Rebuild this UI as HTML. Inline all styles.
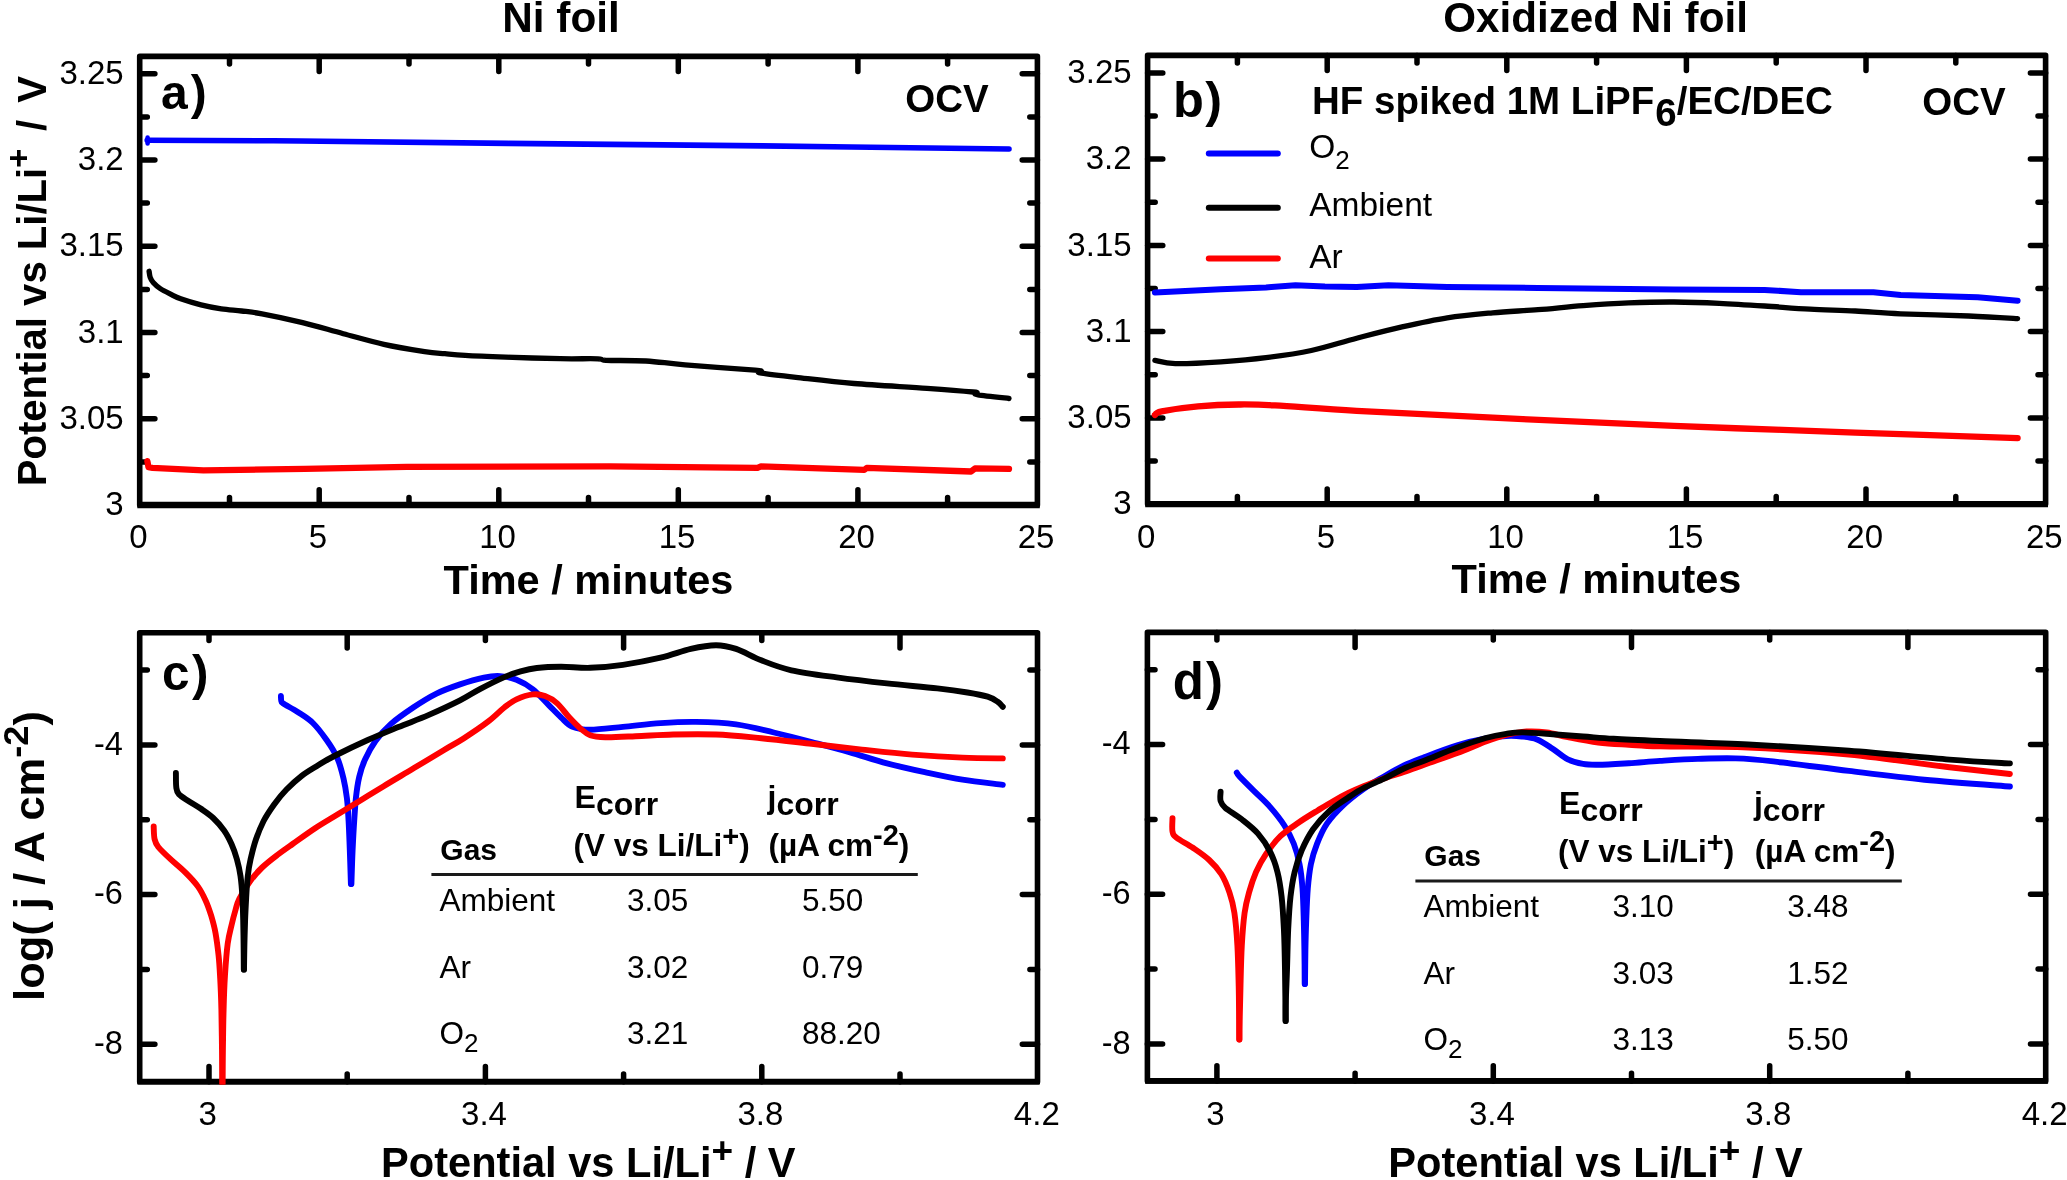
<!DOCTYPE html>
<html><head><meta charset="utf-8"><title>Figure</title>
<style>
html,body{margin:0;padding:0;background:#fff;}
body{width:2067px;height:1180px;overflow:hidden;}
svg{display:block;filter:blur(0.55px);font-family:"Liberation Sans",Arial,Helvetica,sans-serif;fill:#000;}
.c{fill:none;stroke-linecap:round;stroke-linejoin:round;}
</style></head><body>
<svg width="2067" height="1180" viewBox="0 0 2067 1180">
<rect width="2067" height="1180" fill="#fff"/>
<defs><clipPath id="cc"><rect x="136" y="630" width="905" height="454.6"/></clipPath></defs>
<path d="M229.5 56.4v7.6M229.5 505.0v-7.6M319.2 56.4v15.2M319.2 505.0v-15.2M409.0 56.4v7.6M409.0 505.0v-7.6M498.8 56.4v15.2M498.8 505.0v-15.2M588.5 56.4v7.6M588.5 505.0v-7.6M678.3 56.4v15.2M678.3 505.0v-15.2M768.1 56.4v7.6M768.1 505.0v-7.6M857.9 56.4v15.2M857.9 505.0v-15.2M947.6 56.4v7.6M947.6 505.0v-7.6M139.7 461.9h7.6M1037.4 461.9h-7.6M139.7 418.8h15.2M1037.4 418.8h-15.2M139.7 375.6h7.6M1037.4 375.6h-7.6M139.7 332.5h15.2M1037.4 332.5h-15.2M139.7 289.4h7.6M1037.4 289.4h-7.6M139.7 246.2h15.2M1037.4 246.2h-15.2M139.7 203.1h7.6M1037.4 203.1h-7.6M139.7 160.0h15.2M1037.4 160.0h-15.2M139.7 116.9h7.6M1037.4 116.9h-7.6M139.7 73.8h15.2M1037.4 73.8h-15.2" fill="none" stroke="#000" stroke-width="5.5" stroke-linecap="round"/>
<rect x="139.7" y="56.4" width="897.7" height="448.6" fill="none" stroke="#000" stroke-width="5.6" stroke-linejoin="round"/>
<path d="M137.3 505.0H1039.8" fill="none" stroke="#000" stroke-width="6.4"/>
<path d="M1237.4 55.4v7.6M1237.4 504.1v-7.6M1327.2 55.4v15.2M1327.2 504.1v-15.2M1417.0 55.4v7.6M1417.0 504.1v-7.6M1506.8 55.4v15.2M1506.8 504.1v-15.2M1596.6 55.4v7.6M1596.6 504.1v-7.6M1686.4 55.4v15.2M1686.4 504.1v-15.2M1776.2 55.4v7.6M1776.2 504.1v-7.6M1866.0 55.4v15.2M1866.0 504.1v-15.2M1955.8 55.4v7.6M1955.8 504.1v-7.6M1147.6 461.0h7.6M2045.6 461.0h-7.6M1147.6 417.9h15.2M2045.6 417.9h-15.2M1147.6 374.7h7.6M2045.6 374.7h-7.6M1147.6 331.6h15.2M2045.6 331.6h-15.2M1147.6 288.5h7.6M2045.6 288.5h-7.6M1147.6 245.4h15.2M2045.6 245.4h-15.2M1147.6 202.2h7.6M2045.6 202.2h-7.6M1147.6 159.1h15.2M2045.6 159.1h-15.2M1147.6 116.0h7.6M2045.6 116.0h-7.6M1147.6 72.9h15.2M2045.6 72.9h-15.2" fill="none" stroke="#000" stroke-width="5.5" stroke-linecap="round"/>
<rect x="1147.6" y="55.4" width="898.0" height="448.7" fill="none" stroke="#000" stroke-width="5.6" stroke-linejoin="round"/>
<path d="M1145.2 504.1H2048.0" fill="none" stroke="#000" stroke-width="6.4"/>
<path d="M209.0 1081.7v-15.2M209.0 632.8v7.6M347.2 1081.7v-7.6M347.2 632.8v15.2M485.4 1081.7v-15.2M485.4 632.8v7.6M623.6 1081.7v-7.6M623.6 632.8v15.2M761.8 1081.7v-15.2M761.8 632.8v7.6M900.0 1081.7v-7.6M900.0 632.8v15.2M139.7 1044.3h15.2M1037.5 1044.3h-15.2M139.7 969.4h7.6M1037.5 969.4h-7.6M139.7 894.6h15.2M1037.5 894.6h-15.2M139.7 819.8h7.6M1037.5 819.8h-7.6M139.7 744.9h15.2M1037.5 744.9h-15.2M139.7 670.0h7.6M1037.5 670.0h-7.6" fill="none" stroke="#000" stroke-width="5.5" stroke-linecap="round"/>
<rect x="139.7" y="632.8" width="897.8" height="448.9" fill="none" stroke="#000" stroke-width="5.6" stroke-linejoin="round"/>
<path d="M137.3 1081.7H1039.9" fill="none" stroke="#000" stroke-width="5.8"/>
<path d="M1216.9 1080.9v-15.2M1216.9 632.4v7.6M1355.1 1080.9v-7.6M1355.1 632.4v15.2M1493.3 1080.9v-15.2M1493.3 632.4v7.6M1631.5 1080.9v-7.6M1631.5 632.4v15.2M1769.7 1080.9v-15.2M1769.7 632.4v7.6M1907.9 1080.9v-7.6M1907.9 632.4v15.2M1147.4 1044.0h15.2M2045.7 1044.0h-15.2M1147.4 969.1h7.6M2045.7 969.1h-7.6M1147.4 894.3h15.2M2045.7 894.3h-15.2M1147.4 819.5h7.6M2045.7 819.5h-7.6M1147.4 744.6h15.2M2045.7 744.6h-15.2M1147.4 669.8h7.6M2045.7 669.8h-7.6" fill="none" stroke="#000" stroke-width="5.5" stroke-linecap="round"/>
<rect x="1147.4" y="632.4" width="898.3" height="448.5" fill="none" stroke="#000" stroke-width="5.6" stroke-linejoin="round"/>
<path d="M1145.0 1080.9H2048.1" fill="none" stroke="#000" stroke-width="5.8"/>
<path class="c" d="M147.2 140.2C172.7 140.3 239.9 140.5 300.0 141.0C360.1 141.5 430.9 142.6 508.0 143.4C585.1 144.2 679.1 145.0 762.6 145.9C846.1 146.8 967.9 148.5 1009.0 149.0" stroke="#0000ff" stroke-width="5.6"/>
<path class="c" d="M147.6 137.4L147.6 143.6" stroke="#0000ff" stroke-width="4.5"/>
<path class="c" d="M149.1 271.3C149.3 272.3 149.5 275.5 150.2 277.4C150.9 279.3 151.5 280.6 153.2 282.5C154.9 284.4 157.4 286.7 160.3 288.6C163.2 290.5 167.1 292.4 170.5 294.1C173.9 295.8 175.6 297.0 180.7 298.8C185.8 300.6 194.2 303.2 201.0 304.9C207.8 306.6 214.5 307.9 221.3 308.9C228.1 309.9 234.8 310.2 241.6 311.0C248.4 311.8 251.8 311.9 262.0 313.8C272.2 315.7 289.1 319.3 302.6 322.6C316.2 325.9 329.8 330.1 343.3 333.7C356.9 337.3 370.3 341.3 383.9 344.3C397.4 347.3 414.4 350.0 424.6 351.6C434.8 353.2 438.1 353.1 444.9 353.7C451.7 354.3 455.0 354.7 465.2 355.3C475.4 355.9 490.1 356.5 505.9 357.1C521.7 357.7 544.8 358.4 560.1 358.7C575.5 359.0 590.4 358.5 598.0 358.8C605.6 359.1 598.0 359.9 606.0 360.3C614.0 360.7 632.8 360.2 646.0 361.0C659.2 361.8 666.8 363.3 685.0 364.8C703.2 366.3 742.7 369.1 755.0 370.2C767.3 371.3 757.9 371.0 759.0 371.5C760.1 372.0 755.3 372.2 761.5 373.2C767.7 374.2 780.6 375.7 796.0 377.4C811.4 379.1 832.2 381.7 854.0 383.5C875.8 385.3 907.2 386.9 927.0 388.3C946.8 389.7 964.9 391.2 973.0 392.0C981.1 392.8 974.7 392.7 975.5 393.2C976.3 393.7 972.4 393.9 978.0 394.8C983.6 395.7 1003.8 397.9 1009.0 398.5" stroke="#000000" stroke-width="5.3"/>
<path class="c" d="M147.4 461.2L148.5 467.2L152.5 467.9L203.4 470.4L305.0 468.9L406.7 466.9L610.0 466.4L757.5 467.9L761.0 466.4L864.3 469.9L866.8 467.9L971.0 471.5L975.0 468.4L1009.0 468.9" stroke="#ff0000" stroke-width="6.3"/>
<path class="c" d="M1154.9 292.4L1220.7 289.2L1266.0 287.4L1295.5 285.2L1324.9 286.5L1356.7 287.0L1388.4 285.2L1447.3 287.0L1538.0 287.9L1674.0 289.5L1764.6 289.9L1800.9 292.2L1873.4 292.2L1900.6 294.9L1977.7 297.2L2017.6 300.8" stroke="#0000ff" stroke-width="6.0"/>
<path class="c" d="M1154.9 360.4C1158.3 360.9 1164.3 363.4 1175.3 363.6C1186.3 363.8 1205.6 362.8 1220.7 361.8C1235.8 360.8 1250.9 359.6 1266.0 357.7C1281.1 355.8 1296.2 353.8 1311.3 350.5C1326.4 347.2 1341.6 342.1 1356.7 338.2C1371.8 334.3 1386.9 330.3 1402.0 326.9C1417.1 323.5 1432.2 320.1 1447.3 317.8C1462.4 315.5 1477.6 314.2 1492.7 312.8C1507.8 311.4 1522.9 310.9 1538.0 309.7C1553.1 308.5 1568.2 306.7 1583.3 305.6C1598.4 304.5 1613.6 303.5 1628.7 302.9C1643.8 302.3 1658.9 301.9 1674.0 302.0C1689.1 302.1 1704.2 302.6 1719.3 303.3C1734.4 304.0 1749.5 305.0 1764.6 306.0C1779.7 307.0 1794.9 308.4 1810.0 309.2C1825.1 310.0 1840.2 310.2 1855.3 311.0C1870.4 311.8 1881.7 313.0 1900.6 313.8C1919.5 314.6 1949.1 315.2 1968.6 316.0C1988.1 316.8 2009.4 318.2 2017.6 318.7" stroke="#000000" stroke-width="5.3"/>
<path class="c" d="M1154.9 415.0C1156.0 414.4 1154.5 412.8 1161.7 411.3C1168.9 409.9 1185.2 407.4 1198.0 406.3C1210.8 405.2 1226.0 404.6 1238.8 404.5C1251.6 404.4 1255.3 404.3 1275.0 405.4C1294.7 406.5 1320.4 408.8 1356.7 410.9C1393.0 412.9 1439.8 415.2 1492.7 417.7C1545.6 420.2 1613.6 423.3 1674.0 425.8C1734.4 428.3 1798.0 430.6 1855.3 432.6C1912.6 434.7 1990.5 437.2 2017.6 438.1" stroke="#ff0000" stroke-width="6.3"/>
<path class="c" d="M280.9 695.9C281.0 696.8 280.9 699.7 281.3 701.0C281.7 702.3 280.6 701.7 283.3 703.5C286.0 705.3 292.8 708.8 297.7 712.0C302.6 715.2 308.1 718.3 312.9 723.0C317.7 727.7 322.5 734.2 326.6 740.0C330.7 745.8 334.5 751.6 337.3 758.0C340.1 764.4 341.9 771.8 343.5 778.5C345.1 785.2 346.0 791.0 346.9 798.1C347.8 805.2 348.1 812.4 348.6 821.0C349.1 829.6 349.4 839.5 349.8 850.0C350.2 860.5 350.7 878.3 350.9 884.0" stroke="#0000ff" stroke-width="5.9"/>
<path class="c" d="M351.4 884.0C351.6 878.3 352.1 860.5 352.6 850.0C353.1 839.5 353.6 829.6 354.2 821.0C354.8 812.4 355.1 805.4 355.9 798.1C356.7 790.8 357.7 783.4 359.2 777.0C360.7 770.6 362.1 766.0 364.8 760.0C367.5 754.0 371.2 747.0 375.5 741.0C379.8 735.0 384.3 729.7 390.7 724.1C397.1 718.5 406.0 712.4 413.6 707.3C421.2 702.2 428.8 697.4 436.5 693.6C444.2 689.8 452.1 687.1 460.0 684.4C467.9 681.7 477.2 679.0 483.9 677.6C490.6 676.2 494.8 675.7 500.2 676.1C505.6 676.5 511.1 677.6 516.5 679.8C521.9 682.0 527.4 684.9 532.8 689.2C538.2 693.5 544.3 700.7 549.0 705.4C553.7 710.1 557.3 714.0 561.2 717.6C565.1 721.2 567.8 724.9 572.6 726.9C577.4 728.9 581.8 729.7 590.2 729.7C598.6 729.7 611.2 728.0 622.9 726.9C634.6 725.8 648.5 723.9 660.6 723.1C672.8 722.3 683.2 721.7 695.8 721.9C708.4 722.1 723.1 722.6 736.1 724.4C749.1 726.2 761.2 729.6 773.8 732.5C786.4 735.4 799.0 738.7 811.6 742.0C824.2 745.3 836.7 748.5 849.3 752.1C861.9 755.7 874.4 760.0 887.0 763.4C899.6 766.8 912.2 769.5 924.8 772.2C937.4 774.9 949.5 777.6 962.5 779.7C975.5 781.8 996.1 783.9 1002.8 784.8" stroke="#0000ff" stroke-width="5.9"/>
<path class="c" d="M153.7 826.4C153.8 828.5 153.8 835.9 154.6 839.3C155.4 842.7 155.7 843.7 158.3 847.0C161.0 850.3 165.9 854.9 170.5 859.2C175.1 863.5 181.2 868.3 185.8 872.9C190.4 877.5 194.7 882.0 198.0 886.6C201.3 891.2 203.4 895.6 205.6 900.4C207.8 905.2 209.5 910.2 211.2 915.6C212.8 921.0 214.3 926.2 215.5 932.9C216.7 939.6 217.8 948.2 218.6 955.8C219.4 963.4 219.7 969.7 220.2 978.7C220.7 987.7 221.1 998.1 221.4 1010.0C221.7 1021.9 221.8 1036.7 222.0 1050.0C222.2 1063.3 222.2 1083.3 222.3 1090.0" stroke="#ff0000" stroke-width="5.9" clip-path="url(#cc)"/>
<path class="c" d="M222.5 1090.0C222.6 1083.3 222.7 1063.3 222.9 1050.0C223.1 1036.7 223.2 1022.5 223.6 1010.0C223.9 997.5 224.3 986.1 225.0 975.0C225.7 963.9 226.6 951.9 227.7 943.6C228.8 935.3 230.2 930.9 231.5 925.3C232.8 919.7 234.2 914.4 235.5 910.0C236.8 905.6 236.8 903.8 239.2 899.0C241.6 894.2 246.1 886.8 249.9 881.5C253.7 876.2 257.5 871.9 262.1 867.5C266.7 863.1 272.2 858.9 277.3 855.0C282.4 851.1 286.2 848.5 292.6 844.0C299.0 839.5 307.9 833.0 315.5 828.0C323.1 823.0 330.7 818.7 338.3 814.0C345.9 809.3 353.6 804.7 361.2 800.0C368.8 795.3 375.4 791.2 384.1 785.9C392.8 780.6 403.6 774.3 413.6 768.3C423.6 762.3 435.8 755.0 444.1 750.0C452.4 745.0 456.3 743.2 463.6 738.5C470.9 733.8 481.2 726.9 488.0 721.7C494.8 716.5 499.6 711.2 504.3 707.5C509.1 703.8 511.8 701.5 516.5 699.3C521.2 697.1 528.0 694.9 532.8 694.4C537.5 693.9 540.9 694.6 545.0 696.1C549.1 697.6 553.1 699.8 557.2 703.4C561.3 707.0 565.6 713.5 569.4 717.6C573.2 721.7 576.6 725.3 580.1 728.2C583.6 731.1 586.0 733.7 590.2 735.2C594.4 736.7 597.8 737.0 605.3 737.2C612.8 737.4 624.2 736.7 635.5 736.2C646.8 735.8 659.8 734.8 673.2 734.5C686.6 734.2 701.3 733.9 716.0 734.5C730.7 735.1 745.4 736.7 761.3 738.2C777.2 739.8 794.8 741.9 811.6 743.8C828.4 745.7 845.1 747.8 861.9 749.6C878.7 751.4 895.4 753.3 912.2 754.6C929.0 755.9 947.4 757.0 962.5 757.6C977.6 758.2 996.1 758.3 1002.8 758.4" stroke="#ff0000" stroke-width="5.9" clip-path="url(#cc)"/>
<path class="c" d="M175.9 773.0C176.0 775.4 175.8 784.0 176.3 787.5C176.8 791.0 176.8 792.0 178.9 794.3C181.0 796.6 185.1 798.8 188.8 801.2C192.5 803.6 196.9 806.0 201.0 808.8C205.1 811.6 209.4 814.4 213.2 818.0C217.0 821.6 220.8 825.9 223.9 830.2C227.0 834.5 229.3 839.1 231.5 843.9C233.7 848.7 235.4 853.9 236.9 859.2C238.4 864.6 239.6 869.6 240.5 876.0C241.4 882.4 242.0 889.9 242.4 897.3C242.8 904.7 243.0 912.2 243.2 920.2C243.4 928.2 243.5 936.8 243.6 945.0C243.7 953.2 243.8 965.5 243.8 969.6" stroke="#000000" stroke-width="5.9"/>
<path class="c" d="M244.0 969.6C244.1 965.5 244.2 953.2 244.4 945.0C244.6 936.8 244.8 928.2 245.1 920.2C245.4 912.2 245.8 904.7 246.2 897.3C246.6 889.9 247.1 882.4 247.8 876.0C248.5 869.6 249.2 865.3 250.6 859.2C252.0 853.1 253.8 845.7 256.0 839.3C258.2 832.9 260.6 826.9 263.6 821.0C266.7 815.1 270.5 809.5 274.3 804.2C278.1 799.0 281.9 794.2 286.5 789.5C291.1 784.8 296.6 779.7 301.7 775.8C306.8 771.9 311.6 769.2 317.0 765.9C322.4 762.6 325.8 760.3 334.3 756.0C342.8 751.7 357.1 744.8 367.8 740.0C378.5 735.2 388.2 731.3 398.4 727.1C408.6 722.9 418.6 719.4 428.9 714.9C439.2 710.4 451.5 704.7 460.0 700.4C468.5 696.1 472.5 693.0 479.9 689.1C487.3 685.2 497.5 680.1 504.3 677.1C511.1 674.1 515.2 672.9 520.6 671.4C526.0 669.9 530.0 668.8 536.8 668.0C543.6 667.2 552.3 666.8 561.2 666.8C570.1 666.8 579.9 668.1 590.2 667.8C600.5 667.5 611.2 666.5 622.9 664.8C634.6 663.1 649.3 660.4 660.6 657.7C671.9 655.1 681.6 651.0 690.8 648.9C700.0 646.8 708.5 645.2 716.0 645.2C723.5 645.2 728.6 646.4 736.1 648.9C743.6 651.4 752.1 656.7 761.3 660.3C770.5 663.9 778.8 667.4 791.4 670.3C804.0 673.1 820.8 675.2 836.7 677.4C852.6 679.6 870.2 681.6 887.0 683.4C903.8 685.2 924.0 686.9 937.4 688.4C950.8 689.9 959.1 691.1 967.5 692.5C975.9 693.9 982.7 695.2 987.7 696.7C992.7 698.2 995.2 700.1 997.7 701.8C1000.2 703.5 1001.9 706.0 1002.8 706.8" stroke="#000000" stroke-width="5.9"/>
<path class="c" d="M1236.8 772.6C1237.3 773.3 1236.8 773.6 1239.7 776.6C1242.6 779.6 1248.8 785.8 1253.9 790.9C1259.0 796.0 1265.1 801.3 1270.2 807.1C1275.3 812.9 1280.5 819.4 1284.4 825.5C1288.3 831.6 1291.3 837.4 1293.8 843.8C1296.3 850.2 1298.0 856.6 1299.5 864.1C1301.0 871.6 1301.8 879.0 1302.5 888.5C1303.2 898.0 1303.5 910.9 1303.8 921.1C1304.1 931.4 1304.2 939.5 1304.4 950.0C1304.6 960.5 1304.7 978.3 1304.7 984.0" stroke="#0000ff" stroke-width="5.9"/>
<path class="c" d="M1305.0 984.0C1305.1 978.3 1305.2 960.5 1305.4 950.0C1305.6 939.5 1305.8 931.4 1306.2 921.1C1306.6 910.9 1307.0 898.0 1307.8 888.5C1308.6 879.0 1309.4 871.6 1310.9 864.1C1312.4 856.6 1314.3 850.6 1317.0 843.8C1319.7 837.0 1322.7 829.8 1327.1 823.4C1331.5 817.0 1337.3 810.9 1343.4 805.1C1349.5 799.3 1357.0 793.6 1363.8 788.8C1370.6 784.0 1377.3 780.4 1384.0 776.5C1390.7 772.6 1397.2 768.8 1404.0 765.5C1410.8 762.2 1415.9 760.4 1424.8 757.0C1433.7 753.6 1447.1 748.4 1457.3 745.3C1467.5 742.2 1477.7 740.0 1485.8 738.5C1493.9 737.0 1500.1 736.3 1506.1 736.0C1512.1 735.7 1516.8 735.9 1522.0 736.5C1527.2 737.1 1531.9 737.5 1537.0 739.5C1542.1 741.5 1547.5 745.4 1552.6 748.7C1557.7 752.0 1562.7 756.8 1567.8 759.3C1572.9 761.8 1577.9 763.0 1583.0 763.9C1588.1 764.8 1590.7 764.8 1598.3 764.7C1605.9 764.6 1618.5 763.8 1628.8 763.2C1639.1 762.6 1648.5 761.6 1660.0 760.9C1671.5 760.2 1685.3 759.3 1697.9 758.9C1710.5 758.5 1723.1 758.0 1735.7 758.4C1748.3 758.8 1754.5 759.3 1773.4 761.4C1792.3 763.5 1823.7 767.8 1848.9 770.9C1874.1 774.0 1897.6 777.1 1924.4 779.7C1951.2 782.3 1995.7 785.4 2009.9 786.5" stroke="#0000ff" stroke-width="5.9"/>
<path class="c" d="M1172.5 818.1C1172.5 820.4 1171.8 828.3 1172.5 831.6C1173.2 834.9 1173.2 835.0 1176.6 837.7C1180.0 840.4 1187.5 844.1 1192.9 847.8C1198.3 851.5 1204.5 855.6 1209.2 860.0C1214.0 864.4 1218.0 868.9 1221.4 874.3C1224.8 879.7 1227.3 886.2 1229.5 892.6C1231.7 899.0 1233.1 904.1 1234.4 912.9C1235.7 921.7 1236.7 933.3 1237.4 945.5C1238.1 957.7 1238.4 973.8 1238.7 986.2C1239.0 998.6 1239.0 1011.1 1239.1 1020.0C1239.2 1028.9 1239.2 1036.2 1239.2 1039.5" stroke="#ff0000" stroke-width="5.9"/>
<path class="c" d="M1239.5 1039.5C1239.5 1036.2 1239.5 1028.9 1239.7 1020.0C1239.9 1011.1 1240.2 998.6 1240.5 986.2C1240.8 973.8 1241.1 957.7 1241.8 945.5C1242.5 933.3 1243.4 921.7 1244.6 912.9C1245.8 904.1 1247.1 899.4 1249.0 892.6C1250.9 885.8 1253.2 878.7 1256.0 872.2C1258.8 865.8 1262.0 859.9 1266.1 853.9C1270.2 847.9 1275.0 841.4 1280.4 836.2C1285.8 831.0 1292.5 826.8 1298.7 822.5C1304.9 818.2 1312.1 813.9 1317.8 810.4C1323.5 806.9 1328.0 804.1 1333.1 801.2C1338.2 798.3 1343.3 795.5 1348.4 793.0C1353.5 790.5 1357.6 788.6 1363.6 786.2C1369.5 783.8 1377.4 780.9 1384.1 778.5C1390.8 776.1 1397.2 774.3 1404.0 772.0C1410.8 769.7 1415.9 767.7 1424.8 764.5C1433.7 761.3 1447.1 756.8 1457.3 753.0C1467.5 749.2 1477.7 744.5 1485.8 741.5C1493.9 738.5 1499.3 736.7 1506.1 735.0C1512.9 733.3 1519.7 731.9 1526.5 731.5C1533.3 731.1 1539.9 731.5 1546.8 732.5C1553.7 733.5 1559.2 735.5 1567.8 737.2C1576.4 738.9 1588.1 741.3 1598.3 742.6C1608.5 743.9 1618.5 744.2 1628.8 744.8C1639.1 745.4 1640.1 745.9 1660.0 746.4C1679.9 746.9 1716.8 746.1 1748.3 747.5C1779.8 748.9 1815.4 751.3 1848.9 754.6C1882.4 757.9 1922.7 764.0 1949.5 767.2C1976.3 770.4 1999.8 772.9 2009.9 774.0" stroke="#ff0000" stroke-width="5.9"/>
<path class="c" d="M1220.6 791.7C1220.6 793.2 1219.8 798.3 1220.6 801.0C1221.4 803.7 1221.9 805.0 1225.4 808.0C1228.9 811.0 1236.3 815.0 1241.7 819.3C1247.1 823.6 1253.2 828.2 1258.0 833.6C1262.8 839.0 1267.0 845.5 1270.2 851.9C1273.5 858.3 1275.6 864.8 1277.5 872.2C1279.4 879.7 1280.5 887.1 1281.6 896.6C1282.7 906.1 1283.3 917.0 1283.9 929.2C1284.5 941.4 1284.8 958.1 1285.0 969.9C1285.2 981.7 1285.3 991.5 1285.4 1000.0C1285.5 1008.5 1285.5 1017.5 1285.5 1021.0" stroke="#000000" stroke-width="5.9"/>
<path class="c" d="M1285.8 1021.0C1285.8 1017.5 1285.7 1008.5 1285.9 1000.0C1286.1 991.5 1286.6 981.7 1287.0 969.9C1287.4 958.1 1287.6 941.4 1288.2 929.2C1288.8 917.0 1289.4 906.1 1290.5 896.6C1291.6 887.1 1292.7 880.0 1294.6 872.2C1296.5 864.4 1298.9 857.0 1301.9 849.9C1305.0 842.8 1308.4 836.0 1312.9 829.5C1317.5 823.0 1323.3 816.5 1329.2 811.2C1335.1 805.9 1342.7 801.4 1348.4 797.5C1354.1 793.6 1357.6 791.1 1363.6 788.0C1369.5 784.9 1377.4 782.0 1384.1 778.7C1390.8 775.5 1397.2 771.5 1404.0 768.5C1410.8 765.5 1415.9 763.9 1424.8 760.4C1433.7 756.9 1447.1 751.2 1457.3 747.5C1467.5 743.8 1477.7 740.3 1485.8 738.0C1493.9 735.7 1500.0 734.7 1506.1 733.8C1512.2 732.9 1514.7 732.3 1522.4 732.4C1530.2 732.5 1542.5 733.5 1552.6 734.2C1562.7 734.9 1572.8 735.8 1583.0 736.5C1593.2 737.2 1600.8 738.0 1613.6 738.7C1626.4 739.5 1637.5 740.0 1660.0 741.0C1682.5 742.0 1716.8 742.9 1748.3 744.5C1779.8 746.1 1815.4 748.3 1848.9 750.8C1882.4 753.3 1922.7 757.5 1949.5 759.6C1976.3 761.7 1999.8 762.8 2009.9 763.4" stroke="#000000" stroke-width="5.9"/>
<text x="561" y="31.5" font-size="42.3" font-weight="bold" text-anchor="middle">Ni foil</text>
<text x="1595.5" y="31.5" font-size="42.2" font-weight="bold" text-anchor="middle">Oxidized Ni foil</text>
<text x="123.7" y="515.2" font-size="33" text-anchor="end">3</text>
<text x="123.7" y="428.9" font-size="33" text-anchor="end">3.05</text>
<text x="123.7" y="342.7" font-size="33" text-anchor="end">3.1</text>
<text x="123.7" y="256.4" font-size="33" text-anchor="end">3.15</text>
<text x="123.7" y="170.2" font-size="33" text-anchor="end">3.2</text>
<text x="123.7" y="84.0" font-size="33" text-anchor="end">3.25</text>
<text x="138.4" y="548.0" font-size="33" text-anchor="middle">0</text>
<text x="317.9" y="548.0" font-size="33" text-anchor="middle">5</text>
<text x="497.5" y="548.0" font-size="33" text-anchor="middle">10</text>
<text x="677.0" y="548.0" font-size="33" text-anchor="middle">15</text>
<text x="856.6" y="548.0" font-size="33" text-anchor="middle">20</text>
<text x="1036.1" y="548.0" font-size="33" text-anchor="middle">25</text>
<text x="1131.6" y="514.3" font-size="33" text-anchor="end">3</text>
<text x="1131.6" y="428.1" font-size="33" text-anchor="end">3.05</text>
<text x="1131.6" y="341.8" font-size="33" text-anchor="end">3.1</text>
<text x="1131.6" y="255.6" font-size="33" text-anchor="end">3.15</text>
<text x="1131.6" y="169.3" font-size="33" text-anchor="end">3.2</text>
<text x="1131.6" y="83.1" font-size="33" text-anchor="end">3.25</text>
<text x="1146.3" y="548.0" font-size="33" text-anchor="middle">0</text>
<text x="1325.9" y="548.0" font-size="33" text-anchor="middle">5</text>
<text x="1505.5" y="548.0" font-size="33" text-anchor="middle">10</text>
<text x="1685.1" y="548.0" font-size="33" text-anchor="middle">15</text>
<text x="1864.7" y="548.0" font-size="33" text-anchor="middle">20</text>
<text x="2044.3" y="548.0" font-size="33" text-anchor="middle">25</text>
<text x="207.6" y="1125" font-size="33" text-anchor="middle">3</text>
<text x="484.0" y="1125" font-size="33" text-anchor="middle">3.4</text>
<text x="760.4" y="1125" font-size="33" text-anchor="middle">3.8</text>
<text x="1036.8" y="1125" font-size="33" text-anchor="middle">4.2</text>
<text x="122.9" y="754.5" font-size="32.5" text-anchor="end">-4</text>
<text x="122.9" y="904.2" font-size="32.5" text-anchor="end">-6</text>
<text x="122.9" y="1053.9" font-size="32.5" text-anchor="end">-8</text>
<text x="1215.5" y="1125" font-size="33" text-anchor="middle">3</text>
<text x="1491.9" y="1125" font-size="33" text-anchor="middle">3.4</text>
<text x="1768.3" y="1125" font-size="33" text-anchor="middle">3.8</text>
<text x="2044.7" y="1125" font-size="33" text-anchor="middle">4.2</text>
<text x="1130.6" y="754.2" font-size="32.5" text-anchor="end">-4</text>
<text x="1130.6" y="903.9" font-size="32.5" text-anchor="end">-6</text>
<text x="1130.6" y="1053.6" font-size="32.5" text-anchor="end">-8</text>
<text x="588.5" y="593.6" font-size="41.5" font-weight="bold" text-anchor="middle">Time / minutes</text>
<text x="1596.5" y="592.8" font-size="41.5" font-weight="bold" text-anchor="middle">Time / minutes</text>
<text x="588.3" y="1176.9" font-size="41.6" font-weight="bold" text-anchor="middle">Potential vs Li/Li<tspan font-size="37" dy="-14">+</tspan><tspan dy="14"> / V</tspan></text>
<text x="1595.6" y="1176.9" font-size="41.6" font-weight="bold" text-anchor="middle">Potential vs Li/Li<tspan font-size="37" dy="-14">+</tspan><tspan dy="14"> / V</tspan></text>
<text transform="translate(46,486.3) rotate(-90) scale(0.966,1)" font-size="41.5" font-weight="bold" text-anchor="start">Potential vs Li/Li<tspan font-size="34" dy="-16">+</tspan><tspan dy="16" dx="6.7"> /</tspan><tspan dx="6.3"> V</tspan></text>
<text transform="translate(44.3,856) rotate(-90) scale(1.035,1)" font-size="42" font-weight="bold" text-anchor="middle">log( j / A cm<tspan font-size="35" dy="-16">-2</tspan><tspan dy="16">)</tspan></text>
<text x="161" y="108.7" font-size="48" font-weight="bold" text-anchor="start">a<tspan dx="3">)</tspan></text>
<text x="1173" y="117" font-size="50.5" font-weight="bold" text-anchor="start">b<tspan dx="1.5">)</tspan></text>
<text x="162" y="690.2" font-size="49.5" font-weight="bold" text-anchor="start">c<tspan dx="2.5">)</tspan></text>
<text x="1172.7" y="699.1" font-size="51" font-weight="bold" text-anchor="start">d<tspan dx="2.2">)</tspan></text>
<text x="947" y="112.2" font-size="38.5" font-weight="bold" text-anchor="middle">OCV</text>
<text x="1964" y="115" font-size="38.5" font-weight="bold" text-anchor="middle">OCV</text>
<text x="1312" y="114" font-size="38.5" font-weight="bold" text-anchor="start">HF spiked 1M LiPF<tspan dx="1" dy="11.5">6</tspan><tspan dy="-11.5">/EC/DEC</tspan></text>
<path class="c" d="M1208.8 153.4H1277.8" stroke="#0000ff" stroke-width="6"/>
<text x="1309.2" y="158.4" font-size="33.5" text-anchor="start">O<tspan font-size="26" dy="10.3">2</tspan></text>
<path class="c" d="M1208.8 207.7H1277.8" stroke="#000000" stroke-width="6"/>
<text x="1309.2" y="216.0" font-size="33.5" text-anchor="start">Ambient</text>
<path class="c" d="M1208.8 258.6H1277.8" stroke="#ff0000" stroke-width="6"/>
<text x="1309.2" y="268.0" font-size="33.5" text-anchor="start">Ar</text>
<g transform="translate(0,0)">
<path d="M431.4 874.6H917.8" stroke="#1a1a1a" stroke-width="3" fill="none"/>
<text x="440.3" y="859.5" font-size="30" font-weight="bold" text-anchor="start">Gas</text>
<text x="574.6" y="807.5" font-size="32" font-weight="bold" text-anchor="start">E<tspan dy="7.6">corr</tspan></text>
<text x="573.5" y="856" font-size="31.5" font-weight="bold" text-anchor="start">(V vs Li/Li<tspan font-size="29" dy="-10">+</tspan><tspan dy="10">)</tspan></text>
<text x="767.6" y="807.5" font-size="32" font-weight="bold" text-anchor="start">j<tspan dy="7.6">corr</tspan></text>
<text x="768.5" y="856" font-size="31.5" font-weight="bold" text-anchor="start">(µA cm<tspan font-size="29" dy="-11">-2</tspan><tspan dy="11">)</tspan></text>
<text x="439.5" y="910.8" font-size="31.5" text-anchor="start">Ambient</text>
<text x="627" y="910.8" font-size="31.5" text-anchor="start">3.05</text>
<text x="802" y="910.8" font-size="31.5" text-anchor="start">5.50</text>
<text x="439.5" y="977.5" font-size="31.5" text-anchor="start">Ar</text>
<text x="627" y="977.5" font-size="31.5" text-anchor="start">3.02</text>
<text x="802" y="977.5" font-size="31.5" text-anchor="start">0.79</text>
<text x="439.5" y="1043.8" font-size="31.5" text-anchor="start">O<tspan font-size="26" dy="8">2</tspan></text>
<text x="627" y="1043.8" font-size="31.5" text-anchor="start">3.21</text>
<text x="802" y="1043.8" font-size="31.5" text-anchor="start">88.20</text>
</g>
<g transform="translate(984,6.3)">
<path d="M431.4 874.6H917.8" stroke="#1a1a1a" stroke-width="3" fill="none"/>
<text x="440.3" y="859.5" font-size="30" font-weight="bold" text-anchor="start">Gas</text>
<text x="575.1" y="807.5" font-size="32" font-weight="bold" text-anchor="start">E<tspan dy="7.6">corr</tspan></text>
<text x="574.0" y="856" font-size="31.5" font-weight="bold" text-anchor="start">(V vs Li/Li<tspan font-size="29" dy="-10">+</tspan><tspan dy="10">)</tspan></text>
<text x="769.9" y="807.5" font-size="32" font-weight="bold" text-anchor="start">j<tspan dy="7.6">corr</tspan></text>
<text x="770.8" y="856" font-size="31.5" font-weight="bold" text-anchor="start">(µA cm<tspan font-size="29" dy="-11">-2</tspan><tspan dy="11">)</tspan></text>
<text x="439.5" y="910.8" font-size="31.5" text-anchor="start">Ambient</text>
<text x="628.5" y="910.8" font-size="31.5" text-anchor="start">3.10</text>
<text x="803.2" y="910.8" font-size="31.5" text-anchor="start">3.48</text>
<text x="439.5" y="977.5" font-size="31.5" text-anchor="start">Ar</text>
<text x="628.5" y="977.5" font-size="31.5" text-anchor="start">3.03</text>
<text x="803.2" y="977.5" font-size="31.5" text-anchor="start">1.52</text>
<text x="439.5" y="1043.8" font-size="31.5" text-anchor="start">O<tspan font-size="26" dy="8">2</tspan></text>
<text x="628.5" y="1043.8" font-size="31.5" text-anchor="start">3.13</text>
<text x="803.2" y="1043.8" font-size="31.5" text-anchor="start">5.50</text>
</g>
</svg>
</body></html>
